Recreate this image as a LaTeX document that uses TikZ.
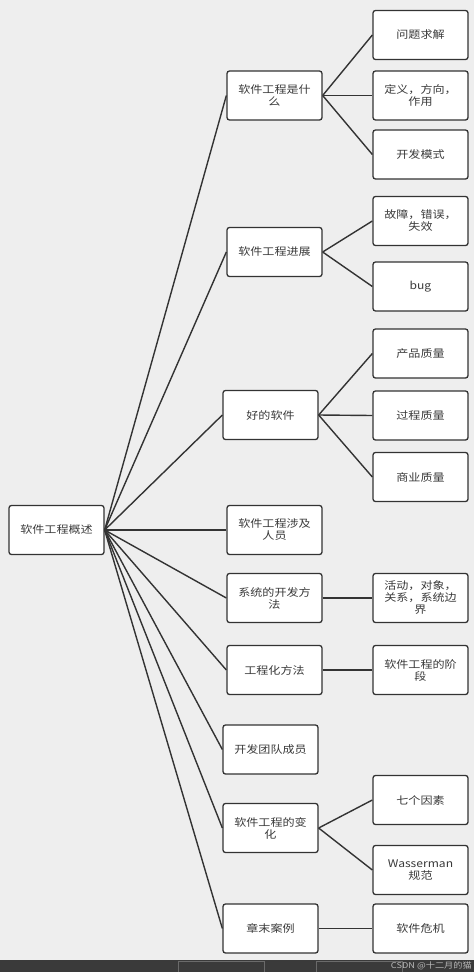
\documentclass[tikz,border=0pt]{standalone}
\usepackage{fontspec}
\newfontfamily\cjk[FakeStretch=1.15]{Noto Sans CJK SC}
\definecolor{bg}{HTML}{EEEEEE}
\definecolor{boxline}{HTML}{333333}
\definecolor{linec}{HTML}{333333}
\definecolor{txt}{HTML}{3A3A3A}
\definecolor{bar}{HTML}{3A3A3A}
\definecolor{tabc}{HTML}{6A6A6A}
\begin{document}
\begin{tikzpicture}[x=1pt,y=-1pt,
  box/.style={draw=boxline, line width=1.3pt, rounded corners=2.5pt, fill=white,
    minimum width=95pt, minimum height=49pt, inner sep=1pt, align=center,
    font=\cjk\fontsize{10.5}{12}\selectfont, text=txt},
  link/.style={draw=linec, line width=1.4pt}]
\fill[bg] (0,0) rectangle (474,972);
\useasboundingbox (0,0) rectangle (474,972);
% root
\node[box] (root) at (56.5,530) {软件工程概述};
% level 1
\node[box] (A) at (274.5,95.5) {软件工程是什\\么};
\node[box] (B) at (274.5,252) {软件工程进展};
\node[box] (C) at (270.5,415) {好的软件};
\node[box] (D) at (274.5,530) {软件工程涉及\\人员};
\node[box] (E) at (274.5,598) {系统的开发方\\法};
\node[box] (F) at (274.5,670) {工程化方法};
\node[box] (G) at (270.5,749.5) {开发团队成员};
\node[box] (H) at (270.5,828) {软件工程的变\\化};
\node[box] (I) at (270.5,928.5) {章末案例};
% level 2
\node[box] (A1) at (420.5,35) {问题求解};
\node[box] (A2) at (420.5,95.5) {定义，方向，\\作用};
\node[box] (A3) at (420.5,154.5) {开发模式};
\node[box] (B1) at (420.5,221) {故障，错误，\\失效};
\node[box] (B2) at (420.5,286.5) {bug};
\node[box] (C1) at (420.5,353.5) {产品质量};
\node[box] (C2) at (420.5,415.5) {过程质量};
\node[box] (C3) at (420.5,477) {商业质量};
\node[box] (E1) at (420.5,598) {活动，对象，\\关系，系统边\\界};
\node[box] (F1) at (420.5,670) {软件工程的阶\\段};
\node[box] (H1) at (420.5,800) {七个因素};
\node[box] (H2) at (420.5,870) {Wasserman\\规范};
\node[box] (I1) at (420.5,928.5) {软件危机};
% connectors
\foreach \n in {A,B,C,D,E,F,G,H,I}
  \draw[link] (root.east) -- (\n.west);
\foreach \p/\c in {A/A1,A/A2,A/A3,B/B1,B/B2,C/C1,C/C2,C/C3,E/E1,F/F1,H/H1,H/H2,I/I1}
  \draw[link] (\p.east) -- (\c.west);
% bottom bar
\fill[bar] (0,960) rectangle (474,972);
\draw[tabc, line width=0.8pt] (178,972) -- (178,961.5) -- (264,961.5) -- (264,972);
\draw[tabc, line width=0.8pt] (316,972) -- (316,961.5) -- (402,961.5) -- (402,972);
\node[anchor=east, inner sep=0pt, font=\cjk\fontsize{8}{8}\selectfont, text=gray!55] (wm) at (472,966) {CSDN @十二月的猫};
\end{tikzpicture}
\end{document}
